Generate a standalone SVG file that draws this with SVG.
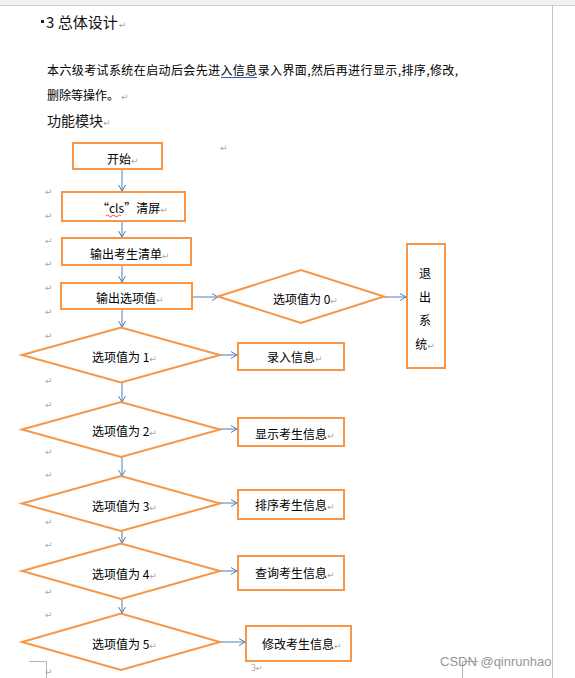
<svg xmlns="http://www.w3.org/2000/svg" width="575" height="678" viewBox="0 0 575 678">
<style>
.box{fill:#fff;stroke:#F79646;stroke-width:2}
.edge{stroke:#4A7EBB;stroke-width:1;fill:none;marker-end:url(#arr)}
.t{font-family:"Noto Sans CJK SC","Noto Sans",sans-serif;font-size:12px;fill:#000}
.c{text-anchor:middle}
.pm{font-family:"DejaVu Sans",sans-serif;font-size:9px;fill:#a8a8a8}
.frame{stroke:#b4b4b4;stroke-width:1;fill:none}
</style>
<defs>
<marker id="arr" markerUnits="userSpaceOnUse" markerWidth="8" markerHeight="10" refX="7" refY="4" orient="auto">
<path d="M1,0.5 L7,4 L1,7.5" fill="none" stroke="#4A7EBB" stroke-width="1"/>
</marker>
</defs>
<rect x="0" y="0" width="575" height="678" fill="#fff"/>
<rect x="0" y="0" width="575" height="5" fill="#f1f1f1"/>
<line x1="0" y1="5.5" x2="575" y2="5.5" stroke="#d2d2d2"/>
<line x1="552.5" y1="5" x2="552.5" y2="678" stroke="#c4c4c4"/>

<g id="heading">
<rect x="41" y="20" width="3" height="3" fill="#222"/>
<text x="46" y="28" style="font-family:'Noto Sans CJK SC',sans-serif;font-size:15px;fill:#111">3 总体设计<tspan class="pm" dx="1">↵</tspan></text>
<text x="47" y="75" class="t" textLength="411" lengthAdjust="spacing">本六级考试系统在启动后会先进入信息录入界面,然后再进行显示,排序,修改,</text>
<line x1="221" y1="77.5" x2="257" y2="77.5" stroke="#2f5fd8" stroke-width="1"/>
<text x="47" y="100" class="t">删除等操作。<tspan class="pm" dx="2">↵</tspan></text>
<text x="47" y="126" style="font-family:'Noto Sans CJK SC',sans-serif;font-size:14px;fill:#111">功能模块<tspan class="pm">↵</tspan></text>
</g>

<g id="connectors">
<line class="edge" x1="122" y1="170" x2="122" y2="191"/>
<line class="edge" x1="122" y1="221" x2="122" y2="237"/>
<line class="edge" x1="122" y1="265" x2="122" y2="282"/>
<line class="edge" x1="192" y1="297" x2="218" y2="297"/>
<line class="edge" x1="384" y1="297" x2="406" y2="297"/>
<line class="edge" x1="122" y1="309" x2="122" y2="327"/>
<line class="edge" x1="219" y1="355" x2="237" y2="355"/>
<line class="edge" x1="122" y1="383" x2="122" y2="402"/>
<line class="edge" x1="219" y1="429" x2="237" y2="429"/>
<line class="edge" x1="122" y1="457" x2="122" y2="476"/>
<line class="edge" x1="219" y1="503" x2="237" y2="503"/>
<line class="edge" x1="122" y1="531" x2="122" y2="543"/>
<line class="edge" x1="219" y1="571" x2="237" y2="571"/>
<line class="edge" x1="122" y1="599" x2="122" y2="613"/>
<line class="edge" x1="219" y1="642" x2="245" y2="642"/>
</g>

<g id="start">
<rect class="box" x="73" y="143" width="89" height="26"/>
<text class="t" x="107" y="164">开始<tspan class="pm">↵</tspan></text>
</g>
<g id="cls">
<rect class="box" x="62" y="192" width="123" height="29"/>
<text class="t" x="97" y="213">“cls”清屏<tspan class="pm">↵</tspan></text>
<path d="M106,216 q1.5,-2 3,0 t3,0 t3,0 t3,0 t3,0" fill="none" stroke="#e02020" stroke-width="0.8"/>
</g>
<g id="list">
<rect class="box" x="62" y="238" width="129" height="27"/>
<text class="t" x="90" y="259">输出考生清单<tspan class="pm">↵</tspan></text>
</g>
<g id="option">
<rect class="box" x="61" y="283" width="131" height="26"/>
<text class="t" x="96" y="303">输出选项值<tspan class="pm">↵</tspan></text>
</g>
<g id="d0">
<polygon class="box" points="218,296.5 301,270 384,296.5 301,323"/>
<text class="t" x="273" y="304">选项值为 0<tspan class="pm">↵</tspan></text>
</g>
<g id="exit">
<rect class="box" x="407" y="244" width="38" height="124"/>
<text class="t c" x="425" y="278">退</text>
<text class="t c" x="425" y="302">出</text>
<text class="t c" x="425" y="325">系</text>
<text class="t c" x="425" y="349">统<tspan class="pm">↵</tspan></text>
</g>
<g id="d1">
<polygon class="box" points="22,355 121,327.5 220,355 121,382.5"/>
<text class="t" x="92" y="362">选项值为 1<tspan class="pm">↵</tspan></text>
</g>
<g id="enter">
<rect class="box" x="238" y="343" width="106" height="27"/>
<text class="t" x="267" y="362">录入信息<tspan class="pm">↵</tspan></text>
</g>
<g id="d2">
<polygon class="box" points="22,429.5 121,402 220,429.5 121,457"/>
<text class="t" x="92" y="436">选项值为 2<tspan class="pm">↵</tspan></text>
</g>
<g id="show">
<rect class="box" x="238" y="418" width="106" height="28"/>
<text class="t" x="255" y="439">显示考生信息<tspan class="pm">↵</tspan></text>
</g>
<g id="d3">
<polygon class="box" points="22,503.5 121,476 220,503.5 121,531"/>
<text class="t" x="92" y="511">选项值为 3<tspan class="pm">↵</tspan></text>
</g>
<g id="sort">
<rect class="box" x="238" y="490" width="106" height="29"/>
<text class="t" x="255" y="510">排序考生信息<tspan class="pm">↵</tspan></text>
</g>
<g id="d4">
<polygon class="box" points="22,571 121,543.5 220,571 121,599"/>
<text class="t" x="92" y="579">选项值为 4<tspan class="pm">↵</tspan></text>
</g>
<g id="query">
<rect class="box" x="238" y="556" width="106" height="34"/>
<text class="t" x="255" y="578">查询考生信息<tspan class="pm">↵</tspan></text>
</g>
<g id="d5">
<polygon class="box" points="22,642 121,613.5 220,642 121,670"/>
<text class="t" x="92" y="649">选项值为 5<tspan class="pm">↵</tspan></text>
</g>
<g id="modify">
<rect class="box" x="246" y="626" width="105" height="35"/>
<text class="t" x="262" y="649">修改考生信息<tspan class="pm">↵</tspan></text>
</g>

<g id="marks">
<text class="pm" x="45" y="195">↵</text>
<text class="pm" x="45" y="219">↵</text>
<text class="pm" x="45" y="244">↵</text>
<text class="pm" x="45" y="267">↵</text>
<text class="pm" x="45" y="291">↵</text>
<text class="pm" x="45" y="315">↵</text>
<text class="pm" x="45" y="339">↵</text>
<text class="pm" x="45" y="384">↵</text>
<text class="pm" x="45" y="408">↵</text>
<text class="pm" x="45" y="455">↵</text>
<text class="pm" x="45" y="478">↵</text>
<text class="pm" x="45" y="525">↵</text>
<text class="pm" x="45" y="548">↵</text>
<text class="pm" x="45" y="595">↵</text>
<text class="pm" x="45" y="618">↵</text>
<text class="pm" x="45" y="675">↵</text>
<text class="pm" x="220" y="151">↵</text>
<text class="pm" x="251" y="671" style="font-size:8px">3↵</text>
<path class="frame" d="M29,661.5 H46.5 V678"/>
<path class="frame" d="M478,661.5 H462.5 V678"/>
</g>
<text x="440" y="666" style="font-family:'Liberation Sans',Arial,sans-serif;font-size:13px;fill:#8a8a8a;opacity:0.9">CSDN @qinrunhao</text>
</svg>
